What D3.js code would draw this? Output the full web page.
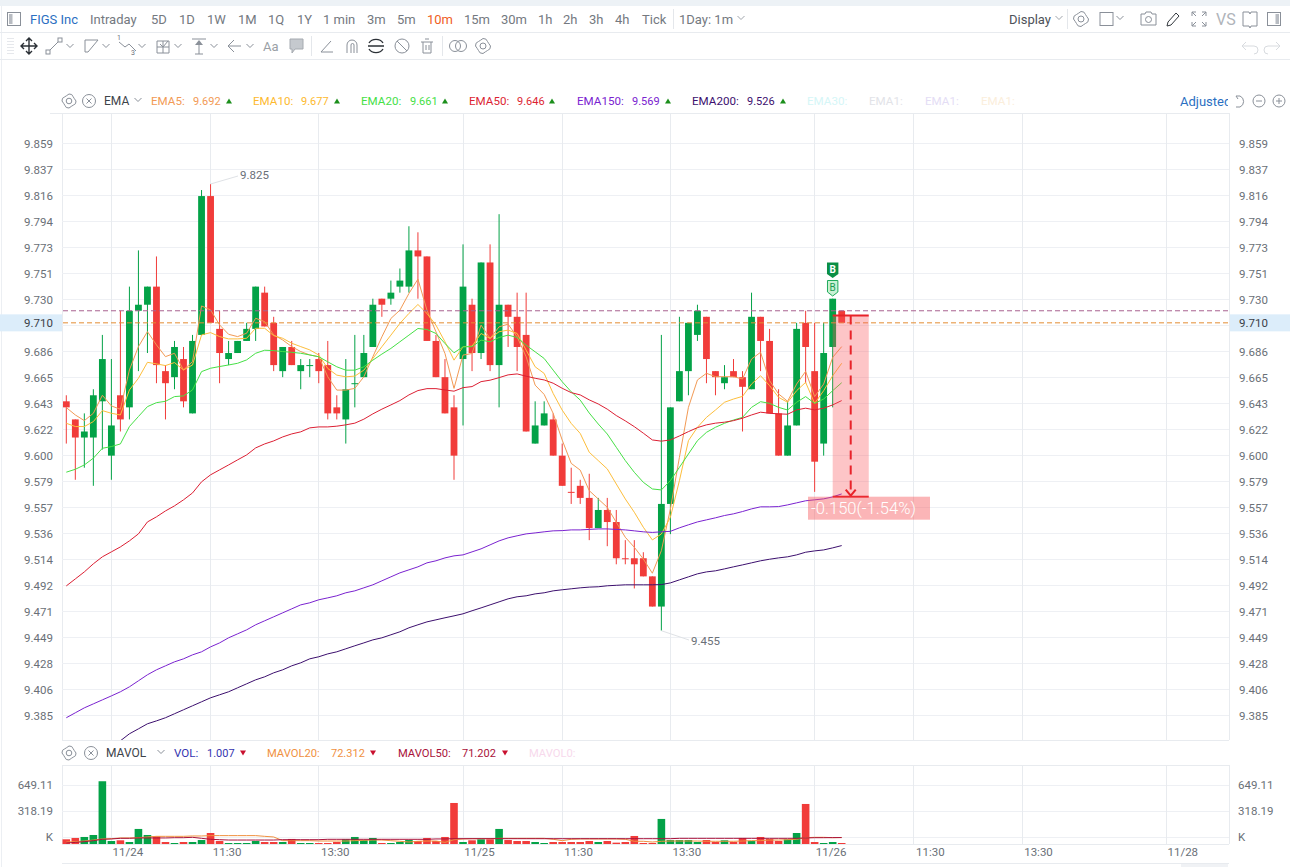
<!DOCTYPE html>
<html>
<head>
<meta charset="utf-8">
<title>FIGS Inc</title>
<script src="https://cdn.jsdelivr.net/npm/d3@7/dist/d3.min.js"></script>
<style>
html,body{margin:0;padding:0;background:#fff;overflow:hidden}
text{font-family:Roboto,"Noto Sans",sans-serif}
</style>
</head>
<body>
<div id="b"></div>
<script>
// candles, one entry per 10 minute bar
var opens = [9.645,9.63,9.615,9.615,9.645,9.60,9.65,9.64,9.72,9.725,
9.74,9.67,9.665,9.68,9.635,9.70,9.815,9.705,9.68,9.685,
9.695,9.705,9.735,9.71,9.67,9.69,9.67,9.675,9.68,9.675,
9.64,9.63,9.66,9.665,9.69,9.73,9.73,9.74,9.74,9.77,
9.765,9.695,9.665,9.64,9.68,9.725,9.685,9.76,9.675,9.725,
9.715,9.70,9.61,9.625,9.63,9.60,9.57,9.575,9.565,9.54,
9.555,9.545,9.515,9.515,9.515,9.50,9.475,9.56,9.645,9.67,
9.70,9.715,9.67,9.66,9.67,9.665,9.655,9.715,9.695,9.635,
9.60,9.625,9.71,9.67,9.61,9.69,9.72]
var highs = [9.65,9.63,9.635,9.655,9.70,9.68,9.72,9.74,9.77,9.74,
9.765,9.675,9.695,9.69,9.70,9.82,9.825,9.72,9.695,9.695,
9.71,9.74,9.74,9.715,9.69,9.695,9.68,9.68,9.685,9.695,
9.65,9.68,9.70,9.70,9.73,9.73,9.745,9.755,9.79,9.785,
9.765,9.70,9.68,9.65,9.775,9.73,9.76,9.775,9.80,9.725,
9.735,9.735,9.645,9.645,9.635,9.61,9.59,9.58,9.585,9.565,
9.565,9.555,9.53,9.53,9.52,9.50,9.70,9.64,9.715,9.71,
9.725,9.715,9.67,9.675,9.68,9.67,9.735,9.715,9.705,9.655,
9.645,9.71,9.72,9.71,9.71,9.73,9.72]
var lows = [9.61,9.58,9.59,9.575,9.605,9.58,9.62,9.63,9.67,9.685,
9.66,9.63,9.655,9.64,9.635,9.70,9.71,9.66,9.675,9.685,
9.695,9.695,9.707,9.67,9.665,9.675,9.655,9.665,9.66,9.63,
9.63,9.61,9.64,9.665,9.69,9.715,9.725,9.735,9.735,9.73,
9.695,9.665,9.635,9.58,9.625,9.67,9.68,9.67,9.64,9.69,
9.67,9.62,9.61,9.625,9.60,9.575,9.56,9.56,9.53,9.54,
9.525,9.51,9.51,9.49,9.50,9.475,9.455,9.535,9.645,9.65,
9.695,9.66,9.65,9.655,9.665,9.62,9.655,9.67,9.635,9.60,
9.60,9.625,9.66,9.57,9.60,9.64,9.71]
var closes = [9.64,9.615,9.62,9.65,9.68,9.625,9.63,9.72,9.725,9.74,
9.675,9.66,9.69,9.645,9.695,9.815,9.71,9.685,9.685,9.695,
9.705,9.74,9.707,9.675,9.69,9.675,9.675,9.675,9.67,9.635,
9.635,9.655,9.66,9.685,9.725,9.725,9.735,9.745,9.77,9.765,
9.695,9.665,9.635,9.60,9.74,9.685,9.76,9.675,9.725,9.715,
9.69,9.62,9.625,9.635,9.60,9.575,9.57,9.565,9.54,9.555,
9.545,9.515,9.515,9.51,9.50,9.475,9.56,9.64,9.67,9.71,
9.72,9.68,9.665,9.665,9.665,9.657,9.715,9.695,9.635,9.60,
9.625,9.705,9.69,9.595,9.685,9.73,9.71]
// bars where open == close but drawn red
var dojiRed = [56,62]

var ema5 = [9.6398,9.6337,9.6290,9.6351,9.6500,9.6412,9.6384,9.6710,9.6903,9.7027,
9.6917,9.6820,9.6848,9.6710,9.6779,9.7240,9.7207,9.7083,9.7005,9.6986,
9.7014,9.7138,9.7110,9.7000,9.6958,9.6903,9.6862,9.6834,9.6819,9.6653,
9.6543,9.6543,9.6557,9.6653,9.6819,9.6984,9.7136,9.7205,9.7343,9.7462,
9.7205,9.7026,9.6846,9.6557,9.6833,9.6846,9.7081,9.6971,9.7067,9.7089,
9.6984,9.6819,9.6584,9.6507,9.6350,9.6129,9.5936,9.5880,9.5710,9.5641,
9.5572,9.5448,9.5324,9.5241,9.5144,9.5026,9.5213,9.5558,9.5986,9.6400,
9.6627,9.6682,9.6654,9.6654,9.6654,9.6635,9.6800,9.6856,9.6621,9.6511,
9.6450,9.6593,9.6698,9.6489,9.6593,9.6814,9.6903]
var ema10 = [9.6268,9.6241,9.6241,9.6282,9.6373,9.6351,9.6337,9.6544,9.6641,9.6773,
9.6760,9.6746,9.6771,9.6710,9.6751,9.7000,9.7019,9.6986,9.6967,9.6967,
9.6972,9.7055,9.7055,9.6994,9.6972,9.6931,9.6903,9.6876,9.6833,9.6722,
9.6667,9.6653,9.6659,9.6708,9.6805,9.6902,9.6998,9.7095,9.7178,9.7252,
9.7178,9.7081,9.6943,9.6791,9.6902,9.6907,9.7012,9.6971,9.7026,9.7040,
9.7012,9.6874,9.6736,9.6681,9.6515,9.6377,9.6267,9.6184,9.6028,9.5959,
9.5890,9.5765,9.5641,9.5531,9.5407,9.5302,9.5351,9.5489,9.5793,9.6124,
9.6235,9.6317,9.6378,9.6442,9.6469,9.6491,9.6593,9.6662,9.6580,9.6483,
9.6442,9.6538,9.6607,9.6433,9.6538,9.6662,9.6765]
var ema20 = [9.5863,9.5887,9.5923,9.5979,9.6061,9.6075,9.6097,9.6241,9.6324,9.6406,
9.6439,9.6450,9.6489,9.6495,9.6544,9.6696,9.6724,9.6738,9.6751,9.6765,
9.6793,9.6848,9.6873,9.6870,9.6862,9.6856,9.6848,9.6834,9.6819,9.6777,
9.6736,9.6708,9.6708,9.6736,9.6791,9.6841,9.6888,9.6943,9.6998,9.7053,
9.7045,9.7012,9.6929,9.6852,9.6902,9.6902,9.6957,9.6943,9.6979,9.6998,
9.6979,9.6915,9.6860,9.6805,9.6708,9.6612,9.6529,9.6460,9.6353,9.6262,
9.6179,9.6069,9.5959,9.5862,9.5779,9.5724,9.5716,9.5793,9.5903,9.6014,
9.6124,9.6193,9.6235,9.6268,9.6295,9.6317,9.6400,9.6447,9.6433,9.6400,
9.6378,9.6442,9.6489,9.6433,9.6469,9.6538,9.6604]
var ema50 = [9.4921,9.4979,9.5037,9.5104,9.5162,9.5203,9.5244,9.5294,9.5352,9.5451,
9.5493,9.5542,9.5584,9.5634,9.5691,9.5783,9.5841,9.5882,9.5923,9.5965,
9.6006,9.6064,9.6097,9.6122,9.6155,9.6180,9.6197,9.6230,9.6238,9.6238,
9.6244,9.6255,9.6269,9.6302,9.6346,9.6385,9.6420,9.6456,9.6503,9.6539,
9.6555,9.6555,9.6544,9.6534,9.6563,9.6572,9.6613,9.6625,9.6646,9.6669,
9.6677,9.6658,9.6641,9.6627,9.6600,9.6558,9.6522,9.6503,9.6462,9.6428,
9.6385,9.6332,9.6288,9.6240,9.6186,9.6130,9.6120,9.6130,9.6163,9.6199,
9.6232,9.6255,9.6269,9.6277,9.6290,9.6310,9.6337,9.6360,9.6351,9.6346,
9.6343,9.6379,9.6393,9.6379,9.6393,9.6420,9.6456]
var ema150 = [9.3829,9.3870,9.3911,9.3944,9.3977,9.4010,9.4044,9.4085,9.4135,9.4185,
9.4226,9.4259,9.4292,9.4317,9.4350,9.4375,9.4416,9.4449,9.4491,9.4524,
9.4557,9.4599,9.4632,9.4665,9.4698,9.4731,9.4764,9.4781,9.4806,9.4822,
9.4839,9.4864,9.4880,9.4905,9.4930,9.4963,9.4996,9.5029,9.5054,9.5079,
9.5112,9.5129,9.5153,9.5170,9.5178,9.5203,9.5228,9.5261,9.5294,9.5319,
9.5336,9.5352,9.5360,9.5369,9.5377,9.5379,9.5385,9.5385,9.5389,9.5393,
9.5393,9.5389,9.5385,9.5377,9.5369,9.5364,9.5369,9.5373,9.5402,9.5427,
9.5451,9.5468,9.5485,9.5504,9.5518,9.5537,9.5559,9.5576,9.5576,9.5578,
9.5592,9.5609,9.5626,9.5634,9.5642,9.5658,9.5683]
var ema200 = [9.3373,9.3414,9.3456,9.3497,9.3547,9.3588,9.3638,9.3696,9.3737,9.3779,
9.3803,9.3829,9.3862,9.3895,9.3928,9.3961,9.3994,9.4019,9.4044,9.4077,
9.4110,9.4143,9.4168,9.4201,9.4226,9.4259,9.4284,9.4317,9.4334,9.4358,
9.4375,9.4400,9.4425,9.4449,9.4474,9.4491,9.4516,9.4541,9.4574,9.4599,
9.4623,9.4640,9.4657,9.4673,9.4690,9.4715,9.4739,9.4764,9.4789,9.4814,
9.4831,9.4839,9.4855,9.4864,9.4880,9.4889,9.4897,9.4905,9.4911,9.4914,
9.4922,9.4926,9.4930,9.4930,9.4930,9.4930,9.4932,9.4946,9.4971,9.4996,
9.5021,9.5037,9.5046,9.5062,9.5079,9.5095,9.5112,9.5129,9.5142,9.5153,
9.5162,9.5178,9.5200,9.5211,9.5219,9.5236,9.5255]

// volume in K
var volumes = [52,67,78,100,696,33,41,22,167,100,
85,22,11,22,22,44,122,33,11,11,
11,33,22,22,22,56,11,11,11,11,
22,52,78,44,67,11,11,22,44,33,
67,33,78,455,22,41,52,52,167,44,
33,33,22,11,22,22,22,22,33,22,
33,15,22,89,11,11,278,44,44,44,
22,44,22,41,22,67,33,78,56,33,
52,122,444,22,11,22,1.007]
var mavol20 = [22,26,33,44,56,59,67,67,70,78,
85,85,85,85,89,89,93,93,93,93,
93,93,85,78,37,37,37,37,33,33,
33,33,37,41,44,44,37,30,22,30,
33,33,18,48,56,59,59,59,63,63,
63,63,63,63,52,37,52,56,56,56,
56,56,52,30,30,22,30,33,33,33,
33,30,30,30,30,33,37,37,44,44,
48,52,70,74,74,70,72.312]
var mavol50 = [11,18,26,37,52,56,63,63,67,67,
67,67,70,70,74,63,52,48,44,44,
44,44,44,44,48,48,48,48,48,52,
52,52,52,52,52,52,52,52,52,52,
52,56,56,59,59,59,59,59,59,59,
59,59,59,59,59,59,59,59,59,59,
59,59,59,59,59,59,59,59,63,63,
63,63,63,63,63,63,63,63,63,63,
63,63,67,70,70,71,71.202]

var priceTicks = ["9.859","9.837","9.816","9.794","9.773","9.751","9.730","9.708","9.686","9.665","9.643","9.622","9.600","9.579","9.557","9.536","9.514","9.492","9.471","9.449","9.428","9.406","9.385"]
var volTicks = ["649.11","318.19","K"]
// bar index of every time label, runs on past the last candle
var timeIdx = [5,16,28,44,55,67,83,94,106,122]
var timeLabels = ["11/24","11:30","13:30","11/25","11:30","13:30","11/26","11:30","13:30","11/28"]

var periods = ["Intraday","5D","1D","1W","1M","1Q","1Y","1 min","3m","5m","10m","15m","30m","1h","2h","3h","4h","Tick"]
var periodX = [90,151,179,207,238,268,297,323,367,397,427,464,501,538,563,589,615,642]

var emaNames = ["EMA5:","EMA10:","EMA20:","EMA50:","EMA150:","EMA200:"]
var emaValues = ["9.692","9.677","9.661","9.646","9.569","9.526"]
var emaColors = ["#f29a55","#fdbe3c","#46e046","#dc1f33","#7a22d0","#3c0f6e"]
var emaSeries = [ema5,ema10,ema20,ema50,ema150,ema200]

var lastPrice = 9.71
var prevLine = 9.72
var measureTop = 9.716
var measureBottom = 9.566

var green = "#03a247"
var red = "#f13c3a"
var gridColor = "#eef0f4"
var textGrey = "#6a7077"

var svg = d3.select('#b').append('svg')
  .attr('width',1290)
  .attr('height',867)

var x = d3.scaleLinear().domain([0,86]).range([66.3,841.7])
var y = d3.scaleLinear().domain([9.825,9.455]).range([184,630.7])
var yTick = d3.scalePoint().domain(priceTicks).range([144,716])
var yVol = d3.scaleLinear().domain([0,691]).range([844,781.7])
var yVolTick = d3.scalePoint().domain(volTicks).range([785,837])

function isUp(i)
{
	if(dojiRed.indexOf(i)>=0) return false
	return closes[i]>=opens[i]
}

function label(g,tx,ty,str,color,size)
{
	return g.append('text')
	.attr('x',tx)
	.attr('y',ty)
	.attr('dominant-baseline','central')
	.attr('fill',color)
	.attr('font-size',size||12)
	.text(str)
}

function hline(g,x1,x2,yy,color)
{
	g.append('line').attr('x1',x1).attr('x2',x2).attr('y1',yy).attr('y2',yy)
	.attr('stroke',color).attr('stroke-width',1)
}

function vline(g,xx,y1,y2,color)
{
	g.append('line').attr('x1',xx).attr('x2',xx).attr('y1',y1).attr('y2',y2)
	.attr('stroke',color).attr('stroke-width',1)
}

// small icons
function stroked(g,d,color,w)
{
	return g.append('path').attr('d',d).attr('fill','none')
	.attr('stroke',color||'#8a9099').attr('stroke-width',w||1)
}

function chevron(g,cx,cy,color)
{
	stroked(g,"M"+(cx-3.5)+" "+(cy-2)+"L"+cx+" "+(cy+1.5)+"L"+(cx+3.5)+" "+(cy-2),color||'#8a9099')
}

function gear(g,cx,cy,r,color)
{
	var pts = []
	for(var k=0;k<16;k++)
	{
		var a = k*Math.PI/8
		var rr = (k%4==0 || k%4==1) ? r : r*0.84
		pts.push((cx+rr*Math.cos(a)).toFixed(1)+","+(cy+rr*Math.sin(a)).toFixed(1))
	}
	g.append('polygon').attr('points',pts.join(" ")).attr('fill','none')
	.attr('stroke',color||'#8a9099').attr('stroke-linejoin','round')
	g.append('circle').attr('cx',cx).attr('cy',cy).attr('r',r*0.4).attr('fill','none')
	.attr('stroke',color||'#8a9099')
}

function circleX(g,cx,cy,r)
{
	g.append('circle').attr('cx',cx).attr('cy',cy).attr('r',r).attr('fill','none').attr('stroke','#8a9099')
	stroked(g,"M"+(cx-2.5)+" "+(cy-2.5)+"L"+(cx+2.5)+" "+(cy+2.5)+"M"+(cx+2.5)+" "+(cy-2.5)+"L"+(cx-2.5)+" "+(cy+2.5))
}

function triUp(g,cx,cy)
{
	g.append('path').attr('d',"M"+(cx-3)+" "+(cy+2.5)+"L"+cx+" "+(cy-2.5)+"L"+(cx+3)+" "+(cy+2.5)+"Z").attr('fill','#1c8f1c')
}

function triDown(g,cx,cy)
{
	g.append('path').attr('d',"M"+(cx-3)+" "+(cy-2.5)+"L"+cx+" "+(cy+2.5)+"L"+(cx+3)+" "+(cy-2.5)+"Z").attr('fill','#c8102e')
}

function panelIcon(g,xx,yy,fillLeft)
{
	g.append('rect').attr('x',xx-6.5).attr('y',yy-6.5).attr('width',13).attr('height',13).attr('fill','none').attr('stroke','#8a9099')
	if(fillLeft)
		g.append('rect').attr('x',xx-5).attr('y',yy-5).attr('width',3.5).attr('height',10).attr('fill','#b8bcc2')
	else
		g.append('rect').attr('x',xx+1.5).attr('y',yy-5).attr('width',3.5).attr('height',10).attr('fill','#b8bcc2')
}

function draw_chrome()
{
	var g = svg.append('g')
	g.append('rect').attr('x',0).attr('y',0).attr('width',1290).attr('height',6).attr('fill','#edf2f6')
	vline(g,1.5,6,867,'#eceff3')
	hline(g,0,1290,32.5,'#e8ebef')
	hline(g,0,1290,59.5,'#e8ebef')

	// first row
	panelIcon(g,14,19,true)
	label(g,30,19,"FIGS Inc","#2b6fc2",13)
	periods.forEach(function(p,i){
		label(g,periodX[i],19,p,p=="10m"?"#f0601e":"#74797f",13)
	})
	vline(g,673.5,9,29,'#e4e7eb')
	label(g,679,19,"1Day: 1m","#74797f",13)
	chevron(g,741,18,'#a0a5ac')
	label(g,1009,19,"Display","#4d5259",13)
	chevron(g,1059,18,'#a0a5ac')
	vline(g,1067.5,9,29,'#e4e7eb')
	gear(g,1081,19,7.5)
	g.append('rect').attr('x',1100).attr('y',12.5).attr('width',13).attr('height',13).attr('fill','none').attr('stroke','#8a9099')
	chevron(g,1120,18)
	// camera
	stroked(g,"M1141 14h4l1-2h5l1 2h4v11h-15z")
	g.append('circle').attr('cx',1148.5).attr('cy',19.5).attr('r',3).attr('fill','none').attr('stroke','#8a9099')
	// pencil
	stroked(g,"M1167 26l1-4l8-9l3 3l-8 9z",'#33383e')
	// expand arrows
	stroked(g,"M1192 16v-4h4M1206 16v-4h-4M1192 22v4h4M1206 22v4h-4M1192 12l4 4M1206 12l-4 4M1192 26l4-4M1206 26l-4-4")
	label(g,1216,19,"VS","#b0b4ba",16)
	stroked(g,"M1243 12h6l1 2l1-2h6v14h-6l-1 2l-1-2h-6z",'#8a9099')
	panelIcon(g,1274,19,false)

	// second row, the drawing tools
	for(var k=0;k<6;k++) hline(g,7,14,38+k*3+0.5,'#e6e8ec')
	var mv = "M29 38v16M21 46h16M26 41l3-3l3 3M26 51l3 3l3-3M24 43l-3 3l3 3M34 43l3 3l-3 3"
	stroked(g,mv,'#2b3036',1.4)
	stroked(g,"M48 52l12-12")
	g.append('rect').attr('x',46).attr('y',50).attr('width',4).attr('height',4).attr('fill','#fff').attr('stroke','#8a9099')
	g.append('rect').attr('x',58).attr('y',38).attr('width',4).attr('height',4).attr('fill','#fff').attr('stroke','#8a9099')
	chevron(g,70,46)
	stroked(g,"M85 40h13l-10 12h-3z")
	chevron(g,106,46)
	stroked(g,"M119 42l6 5l4-3l7 7")
	label(g,117,38,"1","#6a7078",7)
	label(g,131,53,"3","#6a7078",7)
	chevron(g,142,46)
	stroked(g,"M157 41h12v12h-12zM157 47h12M163 41v12M160 44l3 3l5-6")
	chevron(g,178,46)
	stroked(g,"M192 39h14M199 42v12M195 54h8")
	g.append('path').attr('d',"M195 45l4-5l4 5z").attr('fill','#8a9099')
	chevron(g,214,46)
	stroked(g,"M228 46h13M234 40l-6 6l6 6")
	chevron(g,250,46)
	label(g,263,46,"Aa","#9a9fa6",13)
	g.append('path').attr('d',"M290 39h13v10h-8l-3 4v-4h-2z").attr('fill','#c5c9ce').attr('stroke','#a5aab0')
	vline(g,311.5,36,56,'#e4e7eb')
	stroked(g,"M321 52h12M321 52l10-11")
	stroked(g,"M347 53v-8a5 5 0 0 1 10 0v8M351 53v-8a1.5 1.5 0 0 1 3 0v8")
	stroked(g,"M369 43a8 7 0 0 1 14 0M383 49a8 7 0 0 1 -14 0M368 46h16",'#2b3036',1.4)
	g.append('circle').attr('cx',402).attr('cy',46).attr('r',7).attr('fill','none').attr('stroke','#8a9099')
	stroked(g,"M397 41l10 10")
	stroked(g,"M421 42h12M423 42v11h8v-11M425 39h4M426 45v5M429 45v5")
	vline(g,442.5,36,56,'#e4e7eb')
	g.append('circle').attr('cx',455).attr('cy',46).attr('r',5.5).attr('fill','none').attr('stroke','#8a9099')
	g.append('circle').attr('cx',461).attr('cy',46).attr('r',5.5).attr('fill','none').attr('stroke','#8a9099')
	gear(g,483,46,7.5)
	stroked(g,"M1242 46h12a4 4 0 0 1 0 8M1246 42l-4 4l4 4",'#d8dbdf')
	stroked(g,"M1280 46h-12a4 4 0 0 0 0 8M1276 42l4 4l-4 4",'#d8dbdf')
}

function draw_grid()
{
	var g = svg.append('g')
	hline(g,50,1229,113.5,'#e8ebef')
	hline(g,62,1229,740.5,'#e8ebef')
	hline(g,62,1229,765.5,'#e8ebef')
	hline(g,62,1229,844.5,'#e8ebef')
	hline(g,62,1229,863.5,'#e8ebef')
	// panes have a gap between them
	vline(g,62.5,113,740,'#e8ebef')
	vline(g,62.5,765,844,'#e8ebef')
	vline(g,1229.5,113,740,'#e8ebef')
	vline(g,1229.5,765,844,'#e8ebef')

	priceTicks.forEach(function(t){
		hline(g,62,1229,yTick(t)-0.5,gridColor)
	})
	volTicks.forEach(function(t){
		hline(g,62,1229,yVolTick(t)+0.5,gridColor)
	})
	timeIdx.forEach(function(i){
		var px = Math.floor(x(i))+0.5
		vline(g,px,113,740,'#e8ebef')
		vline(g,px,765,844,'#e8ebef')
	})
	// scrollbar stub under the time axis
	g.append('rect').attr('x',1181).attr('y',864).attr('width',47).attr('height',3).attr('fill','#f0f2f5')
}

function draw_axes()
{
	var left = svg.append('g').attr('transform','translate(53,0)')
	.call(d3.axisLeft(yTick).tickSize(0).tickPadding(0))
	var right = svg.append('g').attr('transform','translate(1239,0)')
	.call(d3.axisRight(yTick).tickSize(0).tickPadding(0))
	var volLeft = svg.append('g').attr('transform','translate(53,0)')
	.call(d3.axisLeft(yVolTick).tickSize(0).tickPadding(0))
	var volRight = svg.append('g').attr('transform','translate(1238,0)')
	.call(d3.axisRight(yVolTick).tickSize(0).tickPadding(0))
	var time = svg.append('g').attr('transform','translate(0,845)')
	.call(d3.axisBottom(x).tickValues(timeIdx).tickSize(0).tickPadding(3)
	.tickFormat(function(d,i){return timeLabels[i]}))

	var all = [left,right,volLeft,volRight,time]
	all.forEach(function(a){
		a.select('.domain').remove()
		a.selectAll('text').attr('font-family','Roboto,"Noto Sans",sans-serif')
		.attr('font-size',11.5).attr('fill',textGrey)
	})
	time.selectAll('text').attr('dx',16)

	// highlighted last price on both sides, over the 9.708 tick
	var lg = svg.append('g')
	lg.append('rect').attr('x',0).attr('y',y(lastPrice)-8.5).attr('width',62).attr('height',17).attr('fill','#dcedfa')
	lg.append('rect').attr('x',1230).attr('y',y(lastPrice)-8.5).attr('width',60).attr('height',17).attr('fill','#dcedfa')
	lg.append('text').attr('x',53).attr('y',y(lastPrice)).attr('text-anchor','end').attr('dominant-baseline','central')
	.attr('font-size',11.5).attr('fill','#3a4048').text("9.710")
	lg.append('text').attr('x',1239).attr('y',y(lastPrice)).attr('dominant-baseline','central')
	.attr('font-size',11.5).attr('fill','#3a4048').text("9.710")
	left.selectAll('.tick').filter(function(d){return d=="9.708"}).remove()
	right.selectAll('.tick').filter(function(d){return d=="9.708"}).remove()
}

function draw_candles()
{
	var clip = svg.append('clipPath').attr('id','pane')
	clip.append('rect').attr('x',63).attr('y',114).attr('width',1166).attr('height',626)

	var g = svg.append('g').attr('clip-path','url(#pane)')
	var idx = d3.range(opens.length)

	g.selectAll('.wick').data(idx).enter().append('line')
	.attr('class','wick')
	.attr('x1',function(i){return x(i)})
	.attr('x2',function(i){return x(i)})
	.attr('y1',function(i){return y(highs[i])})
	.attr('y2',function(i){return y(lows[i])})
	.attr('stroke',function(i){return isUp(i)?green:red})
	.attr('stroke-width',1)

	g.selectAll('.body').data(idx).enter().append('rect')
	.attr('class','body')
	.attr('x',function(i){return x(i)-3.4})
	.attr('width',6.8)
	.attr('y',function(i){return y(Math.max(opens[i],closes[i]))})
	.attr('height',function(i){return Math.max(1,Math.abs(y(opens[i])-y(closes[i])))})
	.attr('fill',function(i){return isUp(i)?green:red})

	var line = d3.line()
	.x(function(d,i){return x(i)})
	.y(function(d){return y(d)})

	emaSeries.forEach(function(s,k){
		g.append('path').attr('d',line(s)).attr('fill','none')
		.attr('stroke',emaColors[k]).attr('stroke-width',1)
	})

	// price lines
	g.append('line').attr('x1',63).attr('x2',1229).attr('y1',y(prevLine)).attr('y2',y(prevLine))
	.attr('stroke','#a8618f').attr('stroke-dasharray','5 3')
	g.append('line').attr('x1',63).attr('x2',1229).attr('y1',y(lastPrice)).attr('y2',y(lastPrice))
	.attr('stroke','#e38d33').attr('stroke-dasharray','5 3')

	// high and low tags
	g.append('path').attr('d',"M"+x(16)+" "+y(9.825)+"L238 176").attr('stroke','#dfe2e6').attr('fill','none')
	label(g,240,175,"9.825",textGrey,11.5)
	g.append('path').attr('d',"M"+x(66)+" "+y(9.455)+"L689 640").attr('stroke','#dfe2e6').attr('fill','none')
	label(g,691,641,"9.455",textGrey,11.5)
}

function draw_measure()
{
	var g = svg.append('g')
	var x0 = x(85), x1 = x(89), xm = x(87)
	var top = y(measureTop), bot = y(measureBottom)

	g.append('rect').attr('x',x0).attr('y',top).attr('width',x1-x0).attr('height',bot-top)
	.attr('fill','#f9545a').attr('opacity',0.34)
	g.append('line').attr('x1',x0).attr('x2',x1).attr('y1',top).attr('y2',top).attr('stroke','#e8232a').attr('stroke-width',2)
	g.append('line').attr('x1',x0).attr('x2',x1).attr('y1',bot).attr('y2',bot).attr('stroke','#e8232a').attr('stroke-width',2)
	g.append('line').attr('x1',xm).attr('x2',xm).attr('y1',top).attr('y2',bot-2)
	.attr('stroke','#e8232a').attr('stroke-width',2).attr('stroke-dasharray','9 6')
	g.append('path').attr('d',"M"+(xm-5)+" "+(bot-7)+"L"+xm+" "+(bot-1)+"L"+(xm+5)+" "+(bot-7))
	.attr('fill','none').attr('stroke','#e8232a').attr('stroke-width',2)

	g.append('rect').attr('x',808).attr('y',bot).attr('width',122).attr('height',23)
	.attr('fill','#f65a5f').attr('opacity',0.45)
	label(g,811,bot+12,"-0.150(-1.54%)",'#fff',16.6).attr('font-weight',300)

	// the two buy tags over the last green bar
	var cx = x(85)
	g.append('path').attr('d',"M"+(cx-5.7)+" 262.5h11.4v11.5l-5.7 4l-5.7-4z").attr('fill','#0a8f45')
	g.append('text').attr('x',cx).attr('y',269).attr('text-anchor','middle').attr('dominant-baseline','central')
	.attr('font-size',10).attr('font-weight','bold').attr('fill','#fff').text("B")
	g.append('path').attr('d',"M"+(cx-5.2)+" 280.5h10.4v11.5l-5.2 4l-5.2-4z").attr('fill','#c9f1d4').attr('stroke','#1faa5b')
	g.append('text').attr('x',cx).attr('y',287).attr('text-anchor','middle').attr('dominant-baseline','central')
	.attr('font-size',10).attr('fill','#1a9c52').text("B")
}

function draw_volume()
{
	var g = svg.append('g')
	var idx = d3.range(volumes.length)

	g.selectAll('.vol').data(idx).enter().append('rect')
	.attr('class','vol')
	.attr('x',function(i){return x(i)-3.8})
	.attr('width',7.6)
	.attr('y',function(i){return Math.min(yVol(volumes[i]),843)})
	.attr('height',function(i){return Math.max(1,844-yVol(volumes[i]))})
	.attr('fill',function(i){return isUp(i)?green:red})

	var line = d3.line()
	.x(function(d,i){return x(i)})
	.y(function(d){return yVol(d)})

	g.append('path').attr('d',line(mavol20)).attr('fill','none').attr('stroke','#f0913f').attr('stroke-width',1)
	g.append('path').attr('d',line(mavol50)).attr('fill','none').attr('stroke','#a9123a').attr('stroke-width',1)
}

function draw_headers()
{
	var g = svg.append('g')
	var hy = 101

	gear(g,69,hy,7)
	circleX(g,89,hy,6.5)
	label(g,104,hy,"EMA","#3d434a",12)
	chevron(g,138,hy-1)

	var nameX = [151,253,361,469,577,692]
	var valX = [193,301,410,517,632,747]
	var triX = [229,337,445,552,668,783]
	emaNames.forEach(function(n,k){
		var col = k==1 ? "#fdb92e" : emaColors[k]
		label(g,nameX[k],hy,n,col,11.6)
		label(g,valX[k],hy,emaValues[k],col,11)
		triUp(g,triX[k],hy)
	})
	label(g,807,hy,"EMA30:","#d5f6f7",11.6)
	label(g,869,hy,"EMA1:","#e2e3e8",11.6)
	label(g,925,hy,"EMA1:","#e4ddf5",11.6)
	label(g,981,hy,"EMA1:","#fbeedb",11.6)

	// adjusted is cut off by the panel edge
	var cp = svg.append('clipPath').attr('id','adj')
	cp.append('rect').attr('x',1170).attr('y',90).attr('width',58).attr('height',24)
	label(g,1180,hy,"Adjusted","#2b6fc2",13).attr('clip-path','url(#adj)')

	stroked(g,"M1236 96h4a6 6 0 0 1 0 11h-4M1236 96l2 3")
	g.append('circle').attr('cx',1259).attr('cy',hy).attr('r',6).attr('fill','none').attr('stroke','#8a9099')
	stroked(g,"M1256 101h6")
	g.append('circle').attr('cx',1279).attr('cy',hy).attr('r',6).attr('fill','none').attr('stroke','#8a9099')
	stroked(g,"M1276 101h6M1279 98v6")

	var vy = 753
	gear(g,69,vy,7)
	circleX(g,91,vy,6.5)
	label(g,106,vy,"MAVOL","#3d434a",12)
	chevron(g,161,vy-1)
	label(g,174,vy,"VOL:","#3535b0",11.6)
	label(g,207,vy,"1.007","#3535b0",11)
	triDown(g,243,vy)
	label(g,267,vy,"MAVOL20:","#f0913f",11.2)
	label(g,331,vy,"72.312","#f0913f",11)
	triDown(g,373,vy)
	label(g,398,vy,"MAVOL50:","#a9123a",11.2)
	label(g,462,vy,"71.202","#a9123a",11)
	triDown(g,505,vy)
	label(g,529,vy,"MAVOL0:","#f7d9ec",11.2)
}

draw_chrome()
draw_grid()
draw_axes()
draw_candles()
draw_measure()
draw_volume()
draw_headers()
</script>
</body>
</html>
